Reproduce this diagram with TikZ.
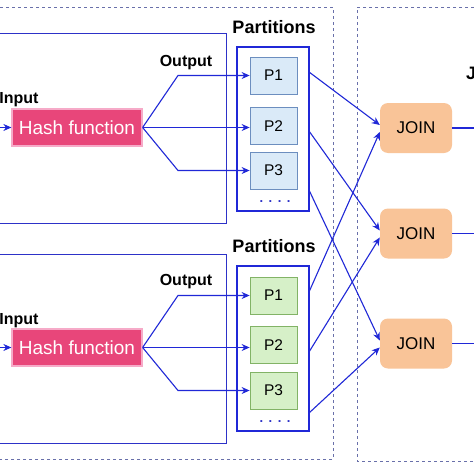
\documentclass[tikz,border=0pt]{standalone}
\usepackage{fontspec}
\setmainfont{Liberation Sans}
\usetikzlibrary{arrows.meta}
\definecolor{lnblue}{RGB}{32,40,215}
\definecolor{boxblue}{RGB}{45,50,200}
\definecolor{dashcol}{RGB}{105,112,170}
\definecolor{pbfill}{RGB}{218,234,248}
\definecolor{pbdraw}{RGB}{108,142,191}
\definecolor{pgfill}{RGB}{214,240,200}
\definecolor{pgdraw}{RGB}{130,179,102}
\definecolor{joinfill}{RGB}{249,196,152}
\definecolor{hashfill}{RGB}{232,70,122}
\definecolor{hashdraw}{RGB}{246,170,200}
\tikzset{
  conn/.style={draw=lnblue, line width=1.1pt, -{Stealth[length=8pt,width=7pt]}},
  plainline/.style={draw=lnblue, line width=1.1pt},
  dashline/.style={draw=dashcol, line width=0.8pt, dash pattern=on 3pt off 3pt},
  innerbox/.style={draw=boxblue, line width=1pt},
  hashbox/.style={fill=hashfill, draw=hashdraw, line width=1.2pt, minimum width=130pt, minimum height=37pt, inner sep=0pt, text=white, font=\fontsize{19}{21}\selectfont},
  lbl/.style={font=\bfseries\fontsize{16}{18}\selectfont, inner sep=0pt},
  plbl/.style={font=\bfseries\fontsize{18}{20}\selectfont, inner sep=0pt},
  pouter/.style={draw=lnblue, line width=1.8pt, minimum width=72pt, inner sep=0pt},
  pblue/.style={fill=pbfill, draw=pbdraw, line width=0.8pt, minimum width=47pt, minimum height=37pt, inner sep=0pt, font=\fontsize{15.5}{17}\selectfont},
  pgreen/.style={pblue, fill=pgfill, draw=pgdraw},
  joinbox/.style={fill=joinfill, rounded corners=8pt, minimum width=72pt, minimum height=50pt, inner sep=0pt, font=\fontsize{17}{19}\selectfont},
  dots/.style={inner sep=0pt, anchor=base, font=\bfseries\fontsize{13}{14}\selectfont, text=boxblue}
}
\begin{document}
\begin{tikzpicture}[x=1pt,y=-1pt]
\useasboundingbox (0,0) rectangle (474,474);
\fill[white] (0,0) rectangle (474,474);
% dashed outer frames
\draw[dashline] (0,7) -- (333,7) -- (333,459) -- (0,459);
\draw[dashline] (474,7) -- (357,7) -- (357,461) -- (474,461);
% inner solid frames
\draw[innerbox] (0,33) -- (226,33) -- (226,223) -- (0,223);
\draw[innerbox] (0,254) -- (226,254) -- (226,443) -- (0,443);
% title, cut off at the right edge as in the reference
\node[plbl, anchor=west] (jt) at (466,73) {J};

% ---------- top half ----------
\node[hashbox] (h1) at (77,127.5) {Hash function};
\node[lbl] (in1) at (19,100) {Input};
\node[lbl] (out1) at (186,63) {Output};
\node[plbl] (pt1) at (274,27) {Partitions};
\node[pouter, minimum height=164pt] (pb1) at (273,129) {};
\node[pblue] (p11) at (273.5,75.5) {P1};
\node[pblue] (p12) at (273.5,126) {P2};
\node[pblue] (p13) at (273.5,170.5) {P3};
\node[dots] (d1) at (275,202) {.\hspace{5.5pt}.\hspace{5.5pt}.\hspace{5.5pt}.};
\coordinate (a1) at (0,127.5);
\draw[conn] (a1) -- (h1.west);
\coordinate (b11) at (178,75.5);
\coordinate (b13) at (178,170.5);
\draw[conn] (h1.east) -- (b11) -- (p11.west);
\draw[conn] (h1.east) -- (h1.east -| p12.west);
\draw[conn] (h1.east) -- (b13) -- (p13.west);

% ---------- bottom half ----------
\node[hashbox] (h2) at (77,347.5) {Hash function};
\node[lbl] (in2) at (19,321) {Input};
\node[lbl] (out2) at (186,282) {Output};
\node[plbl] (pt2) at (274,246) {Partitions};
\node[pouter, minimum height=165pt] (pb2) at (273,348.5) {};
\node[pgreen] (p21) at (273.5,295.5) {P1};
\node[pgreen] (p22) at (273.5,345) {P2};
\node[pgreen] (p23) at (273.5,390.5) {P3};
\node[dots] (d2) at (275,422) {.\hspace{5.5pt}.\hspace{5.5pt}.\hspace{5.5pt}.};
\coordinate (a2) at (0,347.5);
\draw[conn] (a2) -- (h2.west);
\coordinate (b21) at (178,295.5);
\coordinate (b23) at (178,390.5);
\draw[conn] (h2.east) -- (b21) -- (p21.west);
\draw[conn] (h2.east) -- (h2.east -| p22.west);
\draw[conn] (h2.east) -- (b23) -- (p23.west);

% ---------- joins ----------
\node[joinbox] (j1) at (416,128) {JOIN};
\node[joinbox] (j2) at (416,233.5) {JOIN};
\node[joinbox] (j3) at (416,343.5) {JOIN};
\coordinate (r1) at (474,128);
\coordinate (r2) at (474,233.5);
\coordinate (r3) at (474,343.5);
\draw[plainline] (j1.east) -- (r1);
\draw[plainline] (j2.east) -- (r2);
\draw[plainline] (j3.east) -- (r3);

\coordinate (s11) at (309,72);
\coordinate (s12) at (309,131);
\coordinate (s13) at (309,190);
\coordinate (s21) at (309,292);
\coordinate (s22) at (309,352);
\coordinate (s23) at (309,413);
\draw[conn] (s11) -- ([yshift=3pt]j1.west);
\draw[conn] (s12) -- ([yshift=3pt]j2.west);
\draw[conn] (s13) -- ([yshift=3pt]j3.west);
\draw[conn] (s21) -- ([yshift=-4pt]j1.west);
\draw[conn] (s22) -- ([yshift=-4pt]j2.west);
\draw[conn] (s23) -- ([yshift=-4pt]j3.west);
\end{tikzpicture}
\end{document}
